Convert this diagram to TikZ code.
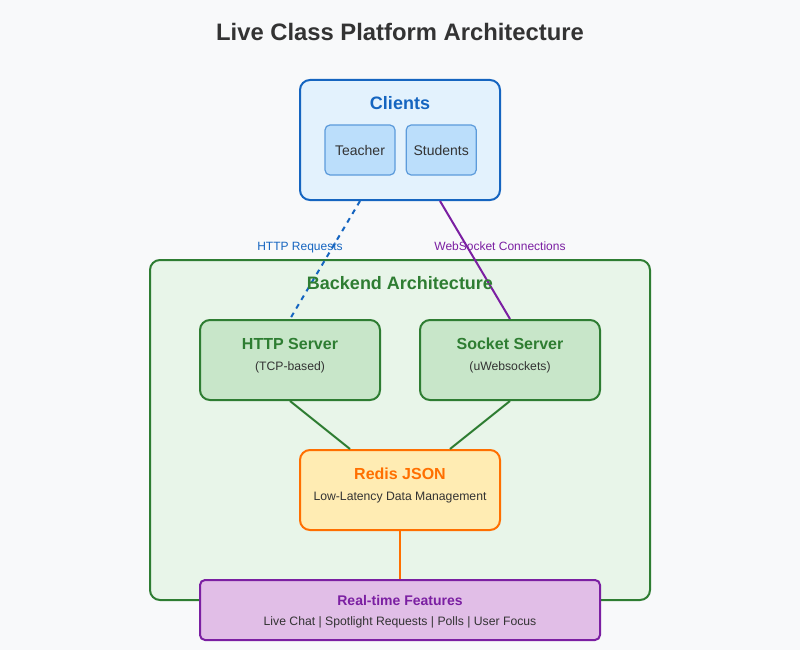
\documentclass[tikz,border=0pt]{standalone}
\usepackage{fontspec}
\setmainfont{Liberation Sans}
\usetikzlibrary{positioning}

\definecolor{pagebg}{HTML}{F8F9FA}
\definecolor{ink}{HTML}{333333}
\definecolor{clientfill}{HTML}{E3F2FD}
\definecolor{clientline}{HTML}{1565C0}
\definecolor{userfill}{HTML}{BBDEFB}
\definecolor{userline}{HTML}{5C9BDB}
\definecolor{backfill}{HTML}{E8F5E9}
\definecolor{backline}{HTML}{2E7D32}
\definecolor{serverfill}{HTML}{C8E6C9}
\definecolor{redisfill}{HTML}{FFECB3}
\definecolor{redisline}{HTML}{FF6F00}
\definecolor{featfill}{HTML}{E1BEE7}
\definecolor{featline}{HTML}{7B1FA2}

\begin{document}
\begin{tikzpicture}[
    x=1pt, y=-1pt,
    panel/.style={rectangle, rounded corners=10pt, line width=2pt, inner sep=0pt},
    userbox/.style={rectangle, rounded corners=5pt, draw=userline, line width=1.2pt, fill=userfill,
                    minimum width=70pt, minimum height=50pt, inner sep=0pt, text=ink,
                    font=\fontsize{14}{16}\selectfont},
    headtxt/.style={font=\fontsize{18}{20}\selectfont\bfseries, inner sep=0pt},
    nametxt/.style={font=\fontsize{16}{18}\selectfont\bfseries, inner sep=0pt},
    subtxt/.style={font=\fontsize{12.2}{14}\selectfont, text=ink, inner sep=0pt, anchor=base},
    linktxt/.style={font=\fontsize{12}{14}\selectfont, inner sep=0pt, anchor=base},
    link/.style={line width=2pt}
]
\useasboundingbox[fill=pagebg] (0,0) rectangle (800,650);

\node[font=\fontsize{23.8}{28}\selectfont\bfseries, text=ink] (title) at (400,32) {Live Class Platform Architecture};

% backend frame
\node[panel, draw=backline, fill=backfill, minimum width=500pt, minimum height=340pt] (backend) at (400,430) {};

% clients
\node[panel, draw=clientline, fill=clientfill, minimum width=200pt, minimum height=120pt] (clients) at (400,140) {};
\node[headtxt, text=clientline] (clientstxt) at (400,103) {Clients};
\node[userbox] (teacher) at (360,150) {Teacher};
\node[userbox, right=10pt of teacher] (students) {Students};

% servers
\node[panel, draw=backline, fill=serverfill, minimum width=180pt, minimum height=80pt] (http) at (290,360) {};
\node[nametxt, text=backline] (httptxt) at (290,344) {HTTP Server};
\node[subtxt] (httpsub) at (290,370) {(TCP-based)};
\node[panel, draw=backline, fill=serverfill, minimum width=180pt, minimum height=80pt] (socket) at (510,360) {};
\node[nametxt, text=backline] (sockettxt) at (510,344) {Socket Server};
\node[subtxt] (socketsub) at (510,370) {(uWebsockets)};

% redis
\node[panel, draw=redisline, fill=redisfill, minimum width=200pt, minimum height=80pt] (redis) at (400,490) {};
\node[nametxt, text=redisline] (redistxt) at (400,474) {Redis JSON};
\node[subtxt] (redissub) at (400,500) {Low-Latency Data Management};

% features
\node[panel, rounded corners=5pt, draw=featline, fill=featfill, minimum width=400pt, minimum height=60pt] (features) at (400,610) {};
\node[font=\fontsize{14}{16}\selectfont\bfseries, text=featline, inner sep=0pt] (feattxt) at (400,600) {Real-time Features};
\node[subtxt] (featsub) at (400,625) {Live Chat | Spotlight Requests | Polls | User Focus};

% connections
\draw[link, clientline, dash pattern=on 5pt off 5pt] ([xshift=-40pt]clients.south) -- (http.north);
\draw[link, featline] ([xshift=40pt]clients.south) -- (socket.north);
\draw[link, backline] (http.south) -- ([xshift=-50pt]redis.north);
\draw[link, backline] (socket.south) -- ([xshift=50pt]redis.north);
\draw[link, redisline] (redis.south) -- (features.north);

\node[linktxt, text=clientline] (httplabel) at (300,250) {HTTP Requests};
\node[linktxt, text=featline] (wslabel) at (500,250) {WebSocket Connections};
\node[headtxt, text=backline] (backendtxt) at (400,283) {Backend Architecture};
\end{tikzpicture}
\end{document}
